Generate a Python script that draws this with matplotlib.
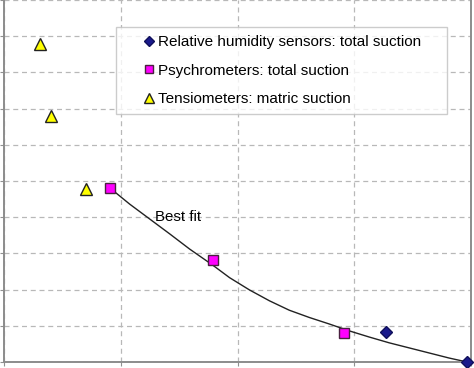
import matplotlib
matplotlib.use("Agg")
import matplotlib.pyplot as plt

plt.rcParams['font.family'] = ['Liberation Sans', 'DejaVu Sans']

# data
rh_x = [3.27, 3.97]
rh_y = [0.82, 0.0]

psy_x = [0.91, 1.79, 2.91]
psy_y = [4.80, 2.81, 0.80]

ten_x = [0.31, 0.40, 0.70]
ten_y = [8.78, 6.80, 4.78]

fit_x = [0.906, 1.077, 1.248, 1.419, 1.590, 1.786, 1.932, 2.103, 2.274, 2.444,
         2.615, 2.786, 2.957, 3.128, 3.299, 3.470, 3.641, 3.812, 3.966]
fit_y = [4.81, 4.36, 3.95, 3.54, 3.12, 2.68, 2.33, 1.99, 1.69, 1.43,
         1.23, 1.05, 0.86, 0.69, 0.53, 0.39, 0.25, 0.11, 0.0]

fig = plt.figure(figsize=(4.74, 3.68), dpi=100)
ax = fig.add_axes([4 / 474, 6 / 368, 467 / 474, 362 / 368])

ax.plot(fit_x, fit_y, color='#222222', lw=1.0, zorder=2)
ax.plot(rh_x, rh_y, ls='none', marker='D', ms=6.5, mfc='#1a1a8c', mec='#10105a',
        label='Relative humidity sensors: total suction', zorder=3, clip_on=False)
ax.plot(psy_x, psy_y, ls='none', marker='s', ms=7.5, mfc='#ff00ff', mec='#4a2040',
        label='Psychrometers: total suction', zorder=3)
ax.plot(ten_x, ten_y, ls='none', marker='^', ms=8.5, mfc='#ffff00', mec='#222222',
        label='Tensiometers: matric suction', zorder=3)

ax.text(1.29, 4.0, 'Best fit', fontsize=10.8, ha='left', va='center')

ax.set_xlim(0, 4)
ax.set_ylim(0, 10)
ax.set_xticks([0, 1, 2, 3, 4])
ax.set_yticks(range(11))
ax.tick_params(labelleft=False, labelbottom=False, length=3, color='#909090')
ax.grid(True, ls=(0, (4, 3)), color='#b8b8b8', lw=0.9)
ax.set_axisbelow(True)
for s in ['left', 'bottom', 'right']:
    ax.spines[s].set_color('#8c8c8c')
    ax.spines[s].set_linewidth(1.4)
ax.spines['top'].set_visible(False)

# legend box spans roughly px 116..447 horizontally, 27..111 vertically
leg = ax.legend(loc='upper left',
                bbox_to_anchor=(112 / 467, (362 - 27) / 362, 331 / 467, 0.0),
                mode='expand', fontsize=11, frameon=True, fancybox=False,
                edgecolor='#c0c0c0', handlelength=3.24, handletextpad=-1.02,
                borderpad=0.52, labelspacing=0.96, markerscale=0.85, borderaxespad=0)
leg.get_frame().set_linewidth(1.0)

fig.savefig('out.png', dpi=100)
